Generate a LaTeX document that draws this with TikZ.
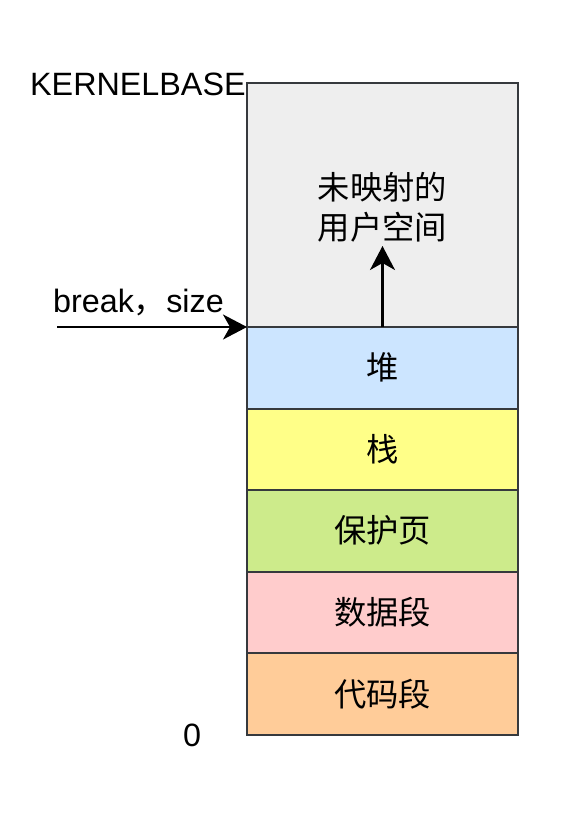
\documentclass[tikz,border=0pt]{standalone}
\usepackage{fontspec}
\setmainfont{Liberation Sans}
\newfontfamily\cjk{Noto Sans CJK SC}
\usetikzlibrary{arrows.meta}
\definecolor{cgray}{HTML}{EEEEEE}
\definecolor{cblue}{HTML}{CCE5FF}
\definecolor{cyellow}{HTML}{FFFF88}
\definecolor{cgreen}{HTML}{CDEB8B}
\definecolor{cpink}{HTML}{FFCCCC}
\definecolor{corange}{HTML}{FFCC99}
\definecolor{cstroke}{HTML}{36393D}
\tikzset{
  seg/.style={draw=cstroke, line width=2pt, minimum width=271pt, inner sep=0pt, outer sep=0pt, font=\cjk\fontsize{32.3}{40}\selectfont},
  lbl/.style={inner sep=0pt, font=\fontsize{32.3}{38}\selectfont},
  arr/.style={line width=2.2pt, -{Stealth[length=24pt,width=25pt,inset=7pt]}}
}
\begin{document}
\begin{tikzpicture}[x=1pt,y=-1pt]
\useasboundingbox (0,0) rectangle (577,820);
\node[seg, fill=cgray, minimum height=244pt] (top) at (382.5,205) {};
\node[seg, fill=cblue, minimum height=81.5pt] (heap) at (382.5,367.75) {堆};
\node[seg, fill=cyellow, minimum height=81.5pt] (stack) at (382.5,449.25) {栈};
\node[seg, fill=cgreen, minimum height=81.5pt] (guard) at (382.5,530.75) {保护页};
\node[seg, fill=cpink, minimum height=81.5pt] (data) at (382.5,612.25) {数据段};
\node[seg, fill=corange, minimum height=81.5pt] (code) at (382.5,693.75) {代码段};
\node[inner sep=0pt, align=center, font=\cjk\fontsize{32.3}{40}\selectfont] (unm) at (382.5,207) {未映射的\\用户空间};
\node[lbl, anchor=base west] (kb) at (30,95) {KERNELBASE};
\node[lbl, anchor=base west] (brk) at (53,312) {break{\cjk ，}size};
\node[lbl, anchor=base] (zero) at (192,746) {0};
\coordinate (bs) at (57,327);
\draw[arr] (bs) -- (top.south west);
\draw[arr] (top.south) -- (382.5,246) coordinate (tipup);
\end{tikzpicture}
\end{document}
